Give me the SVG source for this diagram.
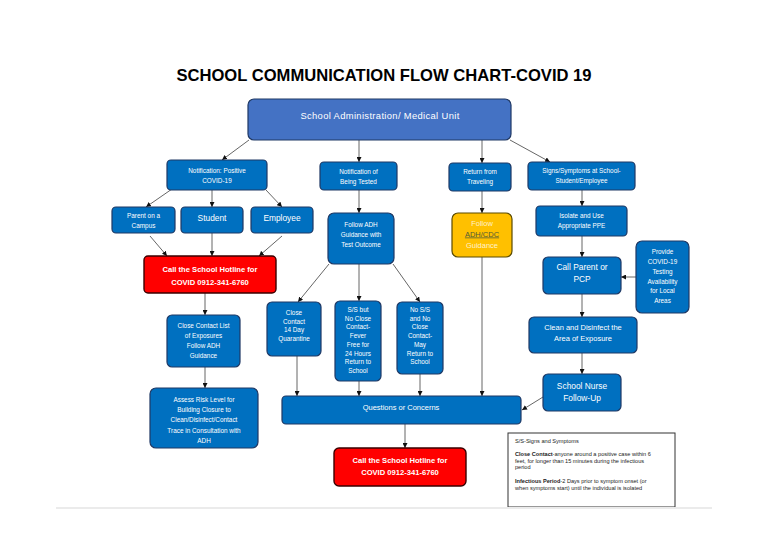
<svg xmlns="http://www.w3.org/2000/svg" width="768" height="544" viewBox="0 0 768 544">
<defs>
<marker id="ah" viewBox="0 0 10 10" refX="10" refY="5" markerWidth="5" markerHeight="5" orient="auto" markerUnits="userSpaceOnUse">
<path d="M0,0 L10,5 L0,10 z" fill="#111"/>
</marker>
<style>
.box{fill:#0070C0;stroke:#1F3864;stroke-width:1.2}
.adm{fill:#4472C4;stroke:#1F3864;stroke-width:1.2}
.red{fill:#FF0000;stroke:#3A0000;stroke-width:1.4}
.yel{fill:#FFC000;stroke:#5A4A00;stroke-width:1.2}
text{font-family:"Liberation Sans",Arial,sans-serif;fill:#fff;text-anchor:middle}
.s{font-size:6.4px}
.m{font-size:7.5px}
.l{font-size:8.4px}
.rt{font-size:7.6px;font-weight:bold}
.c line{stroke:#555;stroke-width:0.9;marker-end:url(#ah)}
.lg{font-size:5.6px;fill:#222;text-anchor:start}
</style>
</defs>
<rect width="768" height="544" fill="#fff"/>
<text x="384" y="81" style="font-size:16.6px;font-weight:bold;fill:#000">SCHOOL COMMUNICATION FLOW CHART-COVID 19</text>

<g id="connectors" class="c">
<line x1="249" y1="140" x2="222" y2="160"/>
<line x1="359" y1="140" x2="359" y2="162"/>
<line x1="482" y1="140" x2="482" y2="163"/>
<line x1="510" y1="140" x2="550" y2="162"/>
<line x1="172" y1="189" x2="146" y2="207"/>
<line x1="212" y1="190" x2="212" y2="207"/>
<line x1="266" y1="190" x2="282" y2="207"/>
<line x1="150" y1="236" x2="167" y2="256"/>
<line x1="212" y1="233" x2="212" y2="256"/>
<line x1="282" y1="236" x2="259" y2="256"/>
<line x1="205" y1="293" x2="205" y2="315"/>
<line x1="205" y1="367" x2="205" y2="388"/>
<line x1="359" y1="190" x2="359" y2="213"/>
<line x1="329" y1="264" x2="298" y2="302"/>
<line x1="359" y1="264" x2="359" y2="301"/>
<line x1="393" y1="264" x2="420" y2="302"/>
<line x1="482" y1="191" x2="482" y2="213"/>
<line x1="582" y1="190" x2="582" y2="206"/>
<line x1="582" y1="236" x2="582" y2="257"/>
<line x1="636" y1="277" x2="621" y2="277"/>
<line x1="582" y1="294" x2="582" y2="317"/>
<line x1="582" y1="353" x2="582" y2="374"/>
<line x1="543" y1="397" x2="522" y2="410"/>
<line x1="297" y1="356" x2="297" y2="396"/>
<line x1="359" y1="381" x2="359" y2="396"/>
<line x1="420" y1="374" x2="420" y2="396"/>
<line x1="482" y1="257" x2="482" y2="396"/>
<line x1="405" y1="424" x2="405" y2="448"/>
</g>

<g id="admin"><rect class="adm" x="248" y="99" width="263" height="41" rx="6"/><text x="380" y="119" style="font-size:9.4px;letter-spacing:0.35px">School Administration/ Medical Unit</text></g>

<g id="notif-positive"><rect class="box" x="167" y="160" width="100" height="30" rx="4"/><text class="s" x="217" y="173">Notification: Positive</text><text class="s" x="217" y="183">COVID-19</text></g>
<g id="parent"><rect class="box" x="112" y="207" width="63" height="26" rx="4"/><text class="s" x="143.5" y="218">Parent on a</text><text class="s" x="143.5" y="228">Campus</text></g>
<g id="student"><rect class="box" x="181" y="207" width="62" height="26" rx="4"/><text class="l" x="212" y="221">Student</text></g>
<g id="employee"><rect class="box" x="251" y="207" width="62" height="26" rx="4"/><text class="l" x="282" y="221">Employee</text></g>
<g id="hotline-1"><rect class="red" x="144" y="256" width="132" height="37" rx="4"/><text class="rt" x="210" y="272">Call the School Hotline for</text><text class="rt" x="210" y="285">COVID 0912-341-6760</text></g>
<g id="close-contact-list"><rect class="box" x="167" y="315" width="73" height="52" rx="5"/><text class="s" x="203.5" y="327.5">Close Contact List</text><text class="s" x="203.5" y="337.5">of Exposures</text><text class="s" x="203.5" y="347.5">Follow ADH</text><text class="s" x="203.5" y="357.5">Guidance</text></g>
<g id="assess"><rect class="box" x="150" y="388" width="108" height="60" rx="6"/><text class="s" x="204" y="401.5">Assess Risk Level for</text><text class="s" x="204" y="411.5">Building Closure to</text><text class="s" x="204" y="422">Clean/Disinfect/Contact</text><text class="s" x="204" y="432.5">Trace in Consultation with</text><text class="s" x="204" y="443">ADH</text></g>

<g id="notif-tested"><rect class="box" x="320" y="162" width="77" height="28" rx="4"/><text class="s" x="358.5" y="173.5">Notification of</text><text class="s" x="358.5" y="183.5">Being Tested</text></g>
<g id="follow-adh"><rect class="box" x="328" y="213" width="66" height="51" rx="6"/><text class="s" x="361" y="227">Follow ADH</text><text class="s" x="361" y="237">Guidance with</text><text class="s" x="361" y="247">Test Outcome</text></g>
<g id="quarantine"><rect class="box" x="267" y="302" width="54" height="54" rx="5"/><text class="s" x="294" y="315">Close</text><text class="s" x="294" y="323.5">Contact</text><text class="s" x="294" y="332">14 Day</text><text class="s" x="294" y="340.5">Quarantine</text></g>
<g id="ss-no-close"><rect class="box" x="335" y="301" width="46" height="80" rx="5"/><text class="s" x="358" y="312">S/S but</text><text class="s" x="358" y="320.7">No Close</text><text class="s" x="358" y="329.4">Contact-</text><text class="s" x="358" y="338.1">Fever</text><text class="s" x="358" y="346.8">Free for</text><text class="s" x="358" y="355.5">24 Hours</text><text class="s" x="358" y="364.2">Return to</text><text class="s" x="358" y="372.9">School</text></g>
<g id="no-ss"><rect class="box" x="397" y="302" width="46" height="72" rx="5"/><text class="s" x="420" y="312">No S/S</text><text class="s" x="420" y="320.7">and No</text><text class="s" x="420" y="329.4">Close</text><text class="s" x="420" y="338.1">Contact-</text><text class="s" x="420" y="346.8">May</text><text class="s" x="420" y="355.5">Return to</text><text class="s" x="420" y="364.2">School</text></g>

<g id="return-travel"><rect class="box" x="449" y="163" width="62" height="28" rx="4"/><text class="s" x="480" y="174">Return from</text><text class="s" x="480" y="184">Traveling</text></g>
<g id="follow-cdc"><rect class="yel" x="452" y="213" width="60" height="44" rx="6"/><text class="m" x="482" y="225.5" style="fill:#FFF2CC">Follow</text><text class="m" x="482" y="236.5" style="fill:#4F5A3A;text-decoration:underline">ADH/CDC</text><text class="m" x="482" y="247.5" style="fill:#FFF2CC">Guidance</text></g>

<g id="signs"><rect class="box" x="528" y="162" width="107" height="28" rx="4"/><text class="s" x="581.5" y="173">Signs/Symptoms at School-</text><text class="s" x="581.5" y="183">Student/Employee</text></g>
<g id="isolate"><rect class="box" x="536" y="206" width="91" height="30" rx="4"/><text class="s" x="581.5" y="218">Isolate and Use</text><text class="s" x="581.5" y="228">Appropriate PPE</text></g>
<g id="call-parent"><rect class="box" x="543" y="257" width="78" height="37" rx="5"/><text class="l" x="582" y="270">Call Parent or</text><text class="l" x="582" y="282">PCP</text></g>
<g id="provide-testing"><rect class="box" x="636" y="241" width="53" height="72" rx="6"/><text class="s" x="662.5" y="254">Provide</text><text class="s" x="662.5" y="264">COVID-19</text><text class="s" x="662.5" y="274">Testing</text><text class="s" x="662.5" y="283.5">Availability</text><text class="s" x="662.5" y="293">for Local</text><text class="s" x="662.5" y="303">Areas</text></g>
<g id="clean"><rect class="box" x="529" y="317" width="108" height="36" rx="5"/><text class="m" x="583" y="329.5">Clean and Disinfect the</text><text class="m" x="583" y="340.5">Area of Exposure</text></g>
<g id="nurse"><rect class="box" x="543" y="374" width="78" height="37" rx="5"/><text class="l" x="582" y="389">School Nurse</text><text class="l" x="582" y="401">Follow-Up</text></g>

<g id="questions"><rect class="box" x="282" y="396" width="239" height="28" rx="4"/><text class="m" x="401" y="409.5">Questions or Concerns</text></g>
<g id="hotline-2"><rect class="red" x="334" y="448" width="132" height="38" rx="5"/><text class="rt" x="400" y="463">Call the School Hotline for</text><text class="rt" x="400" y="475">COVID 0912-341-6760</text></g>

<g id="legend"><rect x="508" y="433" width="167" height="74" fill="#fff" stroke="#333" stroke-width="1"/>
<text class="lg" x="515" y="443">S/S-Signs and Symptoms</text>
<text class="lg" x="515" y="456"><tspan style="font-weight:bold">Close Contact</tspan>-anyone around a positive case within 6</text>
<text class="lg" x="515" y="462.5">feet, for longer than 15 minutes during the infectious</text>
<text class="lg" x="515" y="469">period</text>
<text class="lg" x="515" y="483"><tspan style="font-weight:bold">Infectious Period</tspan>-2 Days prior to symptom onset (or</text>
<text class="lg" x="515" y="489.5">when symptoms start) until the individual is isolated</text>
</g>
<line x1="56" y1="508" x2="712" y2="508" stroke="#ebebeb" stroke-width="2"/>
</svg>
